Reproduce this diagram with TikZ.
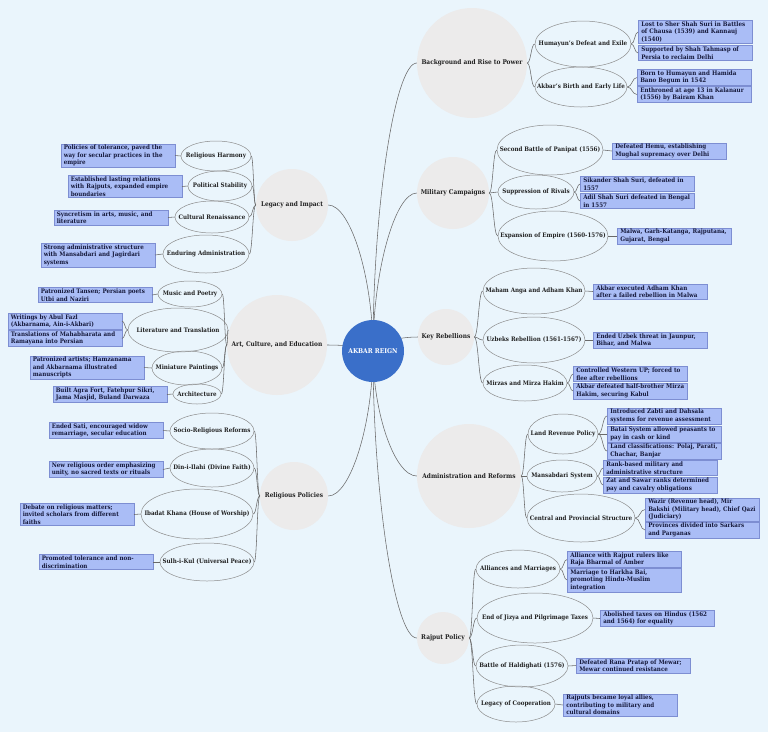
\documentclass[tikz,border=0pt]{standalone}
\usepackage{fontspec}
\setmainfont{DejaVu Serif Condensed}
\usetikzlibrary{shapes.geometric,calc}
\hyphenpenalty=10000
\definecolor{bgc}{RGB}{234,245,252}
\definecolor{lonegray}{RGB}{236,235,235}
\definecolor{rootblue}{RGB}{58,111,201}
\definecolor{leaffill}{RGB}{170,189,246}
\definecolor{leafborder}{RGB}{125,142,210}
\definecolor{leaftext}{RGB}{22,26,60}
\definecolor{ellgray}{RGB}{140,140,140}
\definecolor{linkgray}{RGB}{105,105,105}
\definecolor{txt}{RGB}{34,34,34}
\tikzset{
  rootnode/.style={circle,fill=rootblue,minimum size=62pt,inner sep=0pt,text=white,font=\fontsize{6.6}{8}\selectfont\bfseries},
  lone/.style={circle,fill=lonegray,inner sep=0pt,text=txt,font=\fontsize{6.5}{7.5}\selectfont\bfseries},
  ltwo/.style={ellipse,draw=ellgray,line width=0.5pt,inner sep=0pt,text=txt,font=\fontsize{6.2}{7.5}\selectfont\bfseries},
  leaf/.style={rectangle,fill=leaffill,draw=leafborder,line width=0.5pt,text width=108pt,inner xsep=3pt,inner ysep=1.2pt,align=left,text=leaftext,font=\fontsize{6.2}{7.5}\selectfont\bfseries},
  link/.style={draw=linkgray,line width=0.55pt}
}
\newcommand\et[1]{\makebox[0pt]{#1}}
\newcommand\mmlink[2]{\draw[link] let \p1=(#1), \p2=(#2) in (\p1) .. controls ({(\x1+\x2)/2},\y1) and ({(\x1+\x2)/2},\y2) .. (\p2);}
\newcommand\rtlink[1]{\draw[link] let \p1=(rc), \p2=(#1) in (\p1) .. controls (\x1,{(\y1+\y2)/2}) and ({(\x1+\x2)/2},\y2) .. (\p2);}
\begin{document}
\begin{tikzpicture}[x=1pt,y=-1pt]
\fill[bgc] (0,0) rectangle (768,732);
\useasboundingbox (0,0) rectangle (768,732);
\coordinate (rc) at (373,351);
% level 1
\node[lone,minimum size=110pt] (bg) at (472,63) {Background and Rise to Power};
\node[lone,minimum size=72pt] (mil) at (453,193) {Military Campaigns};
\node[lone,minimum size=56pt] (reb) at (446,337) {Key Rebellions};
\node[lone,minimum size=104pt] (adm) at (469,476) {Administration and Reforms};
\node[lone,minimum size=52pt] (raj) at (443,638) {Rajput Policy};
\node[lone,minimum size=72pt] (leg) at (292,205) {Legacy and Impact};
\node[lone,minimum size=100pt] (art) at (277,345) {Art, Culture, and Education};
\node[lone,minimum size=68pt] (rel) at (294,496) {Religious Policies};
% root links
\rtlink{bg.west}\rtlink{mil.west}\rtlink{reb.west}\rtlink{adm.west}\rtlink{raj.west}
\rtlink{leg.east}\rtlink{art.east}\rtlink{rel.east}
\node[rootnode] (root) at (rc) {AKBAR REIGN};
% level 2 right
\node[ltwo,minimum width=96pt,minimum height=46pt] (hum) at (583,44) {\et{Humayun's Defeat and Exile}};
\node[ltwo,minimum width=92pt,minimum height=40pt] (bir) at (581,87) {\et{Akbar's Birth and Early Life}};
\node[ltwo,minimum width=106pt,minimum height=50pt] (pan) at (550,150) {\et{Second Battle of Panipat (1556)}};
\node[ltwo,minimum width=76pt,minimum height=34pt] (sup) at (536,192) {\et{Suppression of Rivals}};
\node[ltwo,minimum width=110pt,minimum height=50pt] (exp) at (553,236) {\et{Expansion of Empire (1560-1576)}};
\node[ltwo,minimum width=102pt,minimum height=46pt] (mah) at (534,291) {\et{Maham Anga and Adham Khan}};
\node[ltwo,minimum width=102pt,minimum height=46pt] (uzb) at (534,340) {\et{Uzbeks Rebellion (1561-1567)}};
\node[ltwo,minimum width=84pt,minimum height=36pt] (mir) at (525,383) {\et{Mirzas and Mirza Hakim}};
\node[ltwo,minimum width=70pt,minimum height=40pt] (lan) at (563,434) {\et{Land Revenue Policy}};
\node[ltwo,minimum width=70pt,minimum height=32pt] (man) at (562,476) {\et{Mansabdari System}};
\node[ltwo,minimum width=108pt,minimum height=48pt] (cen) at (581,518) {\et{Central and Provincial Structure}};
\node[ltwo,minimum width=84pt,minimum height=38pt] (all) at (518,569) {\et{Alliances and Marriages}};
\node[ltwo,minimum width=116pt,minimum height=50pt] (jiz) at (535,618) {\et{End of Jizya and Pilgrimage Taxes}};
\node[ltwo,minimum width=92pt,minimum height=42pt] (hal) at (522,666) {\et{Battle of Haldighati (1576)}};
\node[ltwo,minimum width=78pt,minimum height=36pt] (coo) at (516,704) {\et{Legacy of Cooperation}};
% level 2 left
\node[ltwo,minimum width=70pt,minimum height=30pt] (rh) at (216,156) {\et{Religious Harmony}};
\node[ltwo,minimum width=64pt,minimum height=30pt] (ps) at (220,186) {\et{Political Stability}};
\node[ltwo,minimum width=74pt,minimum height=32pt] (cr) at (212,217) {\et{Cultural Renaissance}};
\node[ltwo,minimum width=86pt,minimum height=38pt] (ea) at (206,254) {\et{Enduring Administration}};
\node[ltwo,minimum width=64pt,minimum height=26pt] (mp) at (190,294) {\et{Music and Poetry}};
\node[ltwo,minimum width=100pt,minimum height=44pt] (lt) at (178,330) {\et{Literature and Translation}};
\node[ltwo,minimum width=70pt,minimum height=34pt] (mn) at (187,368) {\et{Miniature Paintings}};
\node[ltwo,minimum width=48pt,minimum height=20pt] (ar) at (197,394) {\et{Architecture}};
\node[ltwo,minimum width=84pt,minimum height=36pt] (sr) at (212,431) {\et{Socio-Religious Reforms}};
\node[ltwo,minimum width=84pt,minimum height=38pt] (di) at (212,468) {\et{Din-i-Ilahi (Divine Faith)}};
\node[ltwo,minimum width=112pt,minimum height=50pt] (ib) at (197,514) {\et{Ibadat Khana (House of Worship)}};
\node[ltwo,minimum width=94pt,minimum height=38pt] (sk) at (207,562) {\et{Sulh-i-Kul (Universal Peace)}};
% level1 -> level2 links
\foreach \ch in {hum,bir}{\mmlink{bg.east}{\ch.west}}
\foreach \ch in {pan,sup,exp}{\mmlink{mil.east}{\ch.west}}
\foreach \ch in {mah,uzb,mir}{\mmlink{reb.east}{\ch.west}}
\foreach \ch in {lan,man,cen}{\mmlink{adm.east}{\ch.west}}
\foreach \ch in {all,jiz,hal,coo}{\mmlink{raj.east}{\ch.west}}
\foreach \ch in {rh,ps,cr,ea}{\mmlink{leg.west}{\ch.east}}
\foreach \ch in {mp,lt,mn,ar}{\mmlink{art.west}{\ch.east}}
\foreach \ch in {sr,di,ib,sk}{\mmlink{rel.west}{\ch.east}}
% leaves right
\node[leaf,anchor=west] (r1) at (638,32) {Lost to Sher Shah Suri in Battles of Chausa (1539) and Kannauj (1540)};
\node[leaf,anchor=west] (r2) at (638,53) {Supported by Shah Tahmasp of Persia to reclaim Delhi};
\node[leaf,anchor=west] (r3) at (637,77.5) {Born to Humayun and Hamida Bano Begum in 1542};
\node[leaf,anchor=west] (r4) at (637,94.5) {Enthroned at age 13 in Kalanaur (1556) by Bairam Khan};
\node[leaf,anchor=west] (r5) at (612,151) {Defeated Hemu, establishing Mughal supremacy over Delhi};
\node[leaf,anchor=west] (r6) at (580,184) {Sikander Shah Suri, defeated in 1557};
\node[leaf,anchor=west] (r7) at (580,201) {Adil Shah Suri defeated in Bengal in 1557};
\node[leaf,anchor=west] (r8) at (617,236) {Malwa, Garh-Katanga, Rajputana, Gujarat, Bengal};
\node[leaf,anchor=west] (r9) at (593,291.5) {Akbar executed Adham Khan after a failed rebellion in Malwa};
\node[leaf,anchor=west] (r10) at (593,340) {Ended Uzbek threat in Jaunpur, Bihar, and Malwa};
\node[leaf,anchor=west] (r11) at (573,374) {Controlled Western UP; forced to flee after rebellions};
\node[leaf,anchor=west] (r12) at (573,391) {Akbar defeated half-brother Mirza Hakim, securing Kabul};
\node[leaf,anchor=west] (r13) at (607,416) {Introduced Zabti and Dahsala systems for revenue assessment};
\node[leaf,anchor=west] (r14) at (607,434) {Batai System allowed peasants to pay in cash or kind};
\node[leaf,anchor=west] (r15) at (607,451) {Land classifications: Polaj, Parati, Chachar, Banjar};
\node[leaf,anchor=west] (r16) at (603,468) {Rank-based military and administrative structure};
\node[leaf,anchor=west] (r17) at (603,485) {Zat and Sawar ranks determined pay and cavalry obligations};
\node[leaf,anchor=west] (r18) at (645,509.5) {Wazir (Revenue head), Mir Bakshi (Military head), Chief Qazi (Judiciary)};
\node[leaf,anchor=west] (r19) at (645,530) {Provinces divided into Sarkars and Parganas};
\node[leaf,anchor=west] (r20) at (567,559.5) {Alliance with Rajput rulers like Raja Bharmal of Amber};
\node[leaf,anchor=west] (r21) at (567,580) {Marriage to Harkha Bai, promoting Hindu-Muslim integration};
\node[leaf,anchor=west] (r22) at (600,618.5) {Abolished taxes on Hindus (1562 and 1564) for equality};
\node[leaf,anchor=west] (r23) at (576,665.5) {Defeated Rana Pratap of Mewar; Mewar continued resistance};
\node[leaf,anchor=west] (r24) at (563,705) {Rajputs became loyal allies, contributing to military and cultural domains};
% leaves left
\node[leaf,anchor=east] (l1) at (175,155.5) {Policies of tolerance, paved the way for secular practices in the empire};
\node[leaf,anchor=east] (l2) at (182,186.5) {Established lasting relations with Rajputs, expanded empire boundaries};
\node[leaf,anchor=east] (l3) at (168,217.5) {Syncretism in arts, music, and literature};
\node[leaf,anchor=east] (l4) at (155,255) {Strong administrative structure with Mansabdari and Jagirdari systems};
\node[leaf,anchor=east] (l5) at (152,295) {Patronized Tansen; Persian poets Utbi and Naziri};
\node[leaf,anchor=east] (l6) at (122,321) {Writings by Abul Fazl (Akbarnama, Ain-i-Akbari)};
\node[leaf,anchor=east] (l7) at (122,338.5) {Translations of Mahabharata and Ramayana into Persian};
\node[leaf,anchor=east] (l8) at (144,367.5) {Patronized artists; Hamzanama and Akbarnama illustrated manuscripts};
\node[leaf,anchor=east] (l9) at (167,394.5) {Built Agra Fort, Fatehpur Sikri, Jama Masjid, Buland Darwaza};
\node[leaf,anchor=east] (l10) at (163,430.5) {Ended Sati, encouraged widow remarriage, secular education};
\node[leaf,anchor=east] (l11) at (163,469.5) {New religious order emphasizing unity, no sacred texts or rituals};
\node[leaf,anchor=east] (l12) at (134,514.5) {Debate on religious matters; invited scholars from different faiths};
\node[leaf,anchor=east] (l13) at (153,562) {Promoted tolerance and non-discrimination};
% level2 -> leaf links
\foreach \pa/\ch in {hum/r1,hum/r2,bir/r3,bir/r4,pan/r5,sup/r6,sup/r7,exp/r8,mah/r9,uzb/r10,mir/r11,mir/r12,lan/r13,lan/r14,lan/r15,man/r16,man/r17,cen/r18,cen/r19,all/r20,all/r21,jiz/r22,hal/r23,coo/r24}{\mmlink{\pa.east}{\ch.west}}
\foreach \pa/\ch in {rh/l1,ps/l2,cr/l3,ea/l4,mp/l5,lt/l6,lt/l7,mn/l8,ar/l9,sr/l10,di/l11,ib/l12,sk/l13}{\mmlink{\pa.west}{\ch.east}}
\end{tikzpicture}
\end{document}
